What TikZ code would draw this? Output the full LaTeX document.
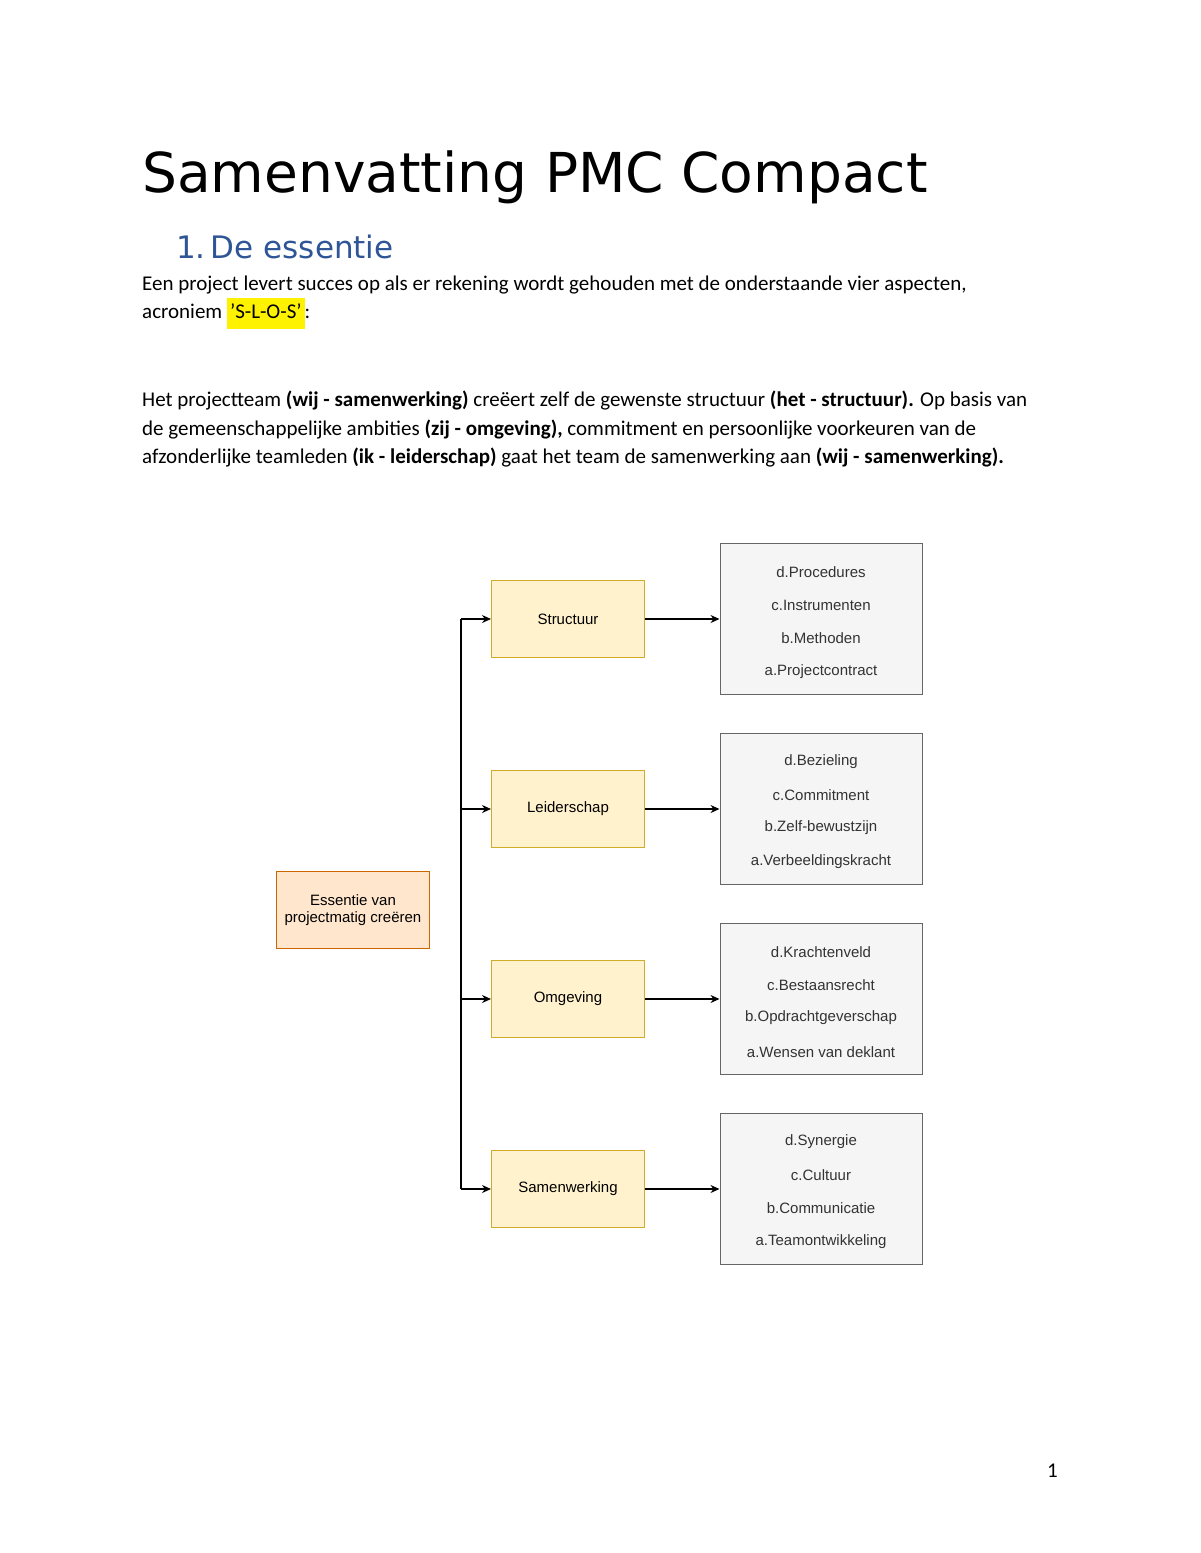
\documentclass[tikz,border=0pt]{standalone}
\usepackage{fontspec}
\setmainfont{Carlito}
\newfontfamily\titlefont{DejaVu Sans}
\newfontfamily\diafont{Liberation Sans}
\usetikzlibrary{arrows.meta}
\definecolor{hblue}{HTML}{2F5597}
\begin{document}
\begin{tikzpicture}[x=1pt,y=-1pt,
  body/.style={anchor=base west,inner sep=0pt,font=\fontsize{21}{25}\selectfont},
  aspect/.style={draw=#1!70!black,fill=#1,line width=1pt,minimum width=153pt,minimum height=77pt,inner sep=0pt,font=\diafont\fontsize{15}{17}\selectfont},
  listbox/.style={draw=black!60,fill=black!4,line width=1pt,minimum width=202pt,minimum height=151pt,inner sep=0pt},
  item/.style={font=\diafont\fontsize{15}{17}\selectfont,text=black!80,inner sep=0pt},
  conn/.style={line width=1.3pt,-{Stealth[length=9pt,width=8pt]}}]
\definecolor{yel}{HTML}{FFF2CC}
\definecolor{peach}{HTML}{FFE6CC}
\useasboundingbox[fill=white] (0,0) rectangle (1200,1553);
\node[anchor=base west,inner sep=0pt,font=\titlefont\fontsize{55}{60}\selectfont] (title) at (142,192) {Samenvatting PMC Compact};
\node[anchor=base west,inner sep=0pt,text=hblue,font=\titlefont\fontsize{31}{36}\selectfont] (h1) at (176,258) {1.\,De essentie};
\node[body] (l1) at (142,290) {Een project levert succes op als er rekening wordt gehouden met de onderstaande vier aspecten,};
\node[body] (l2) at (142,318) {acroniem \colorbox{yellow}{\strut’S-L-O-S’}:};
\node[body] (l3) at (142,406) {Het projectteam \textbf{(wij - samenwerking)} creëert zelf de gewenste structuur \textbf{(het - structuur).} Op basis van};
\node[body] (l4) at (142,435) {de gemeenschappelijke ambities \textbf{(zij - omgeving),} commitment en persoonlijke voorkeuren van de};
\node[body] (l5) at (142,463) {afzonderlijke teamleden \textbf{(ik - leiderschap)} gaat het team de samenwerking aan \textbf{(wij - samenwerking).}};
\node[body] (pg) at (1047,1477) {1};
% diagram
\node[aspect=peach,draw=orange!80!black,align=center] (ess) at (353,910) {Essentie van\\projectmatig creëren};
\coordinate (top) at (461,619);
\coordinate (bot) at (461,1189);
\draw[line width=1.3pt] (top) -- (bot);
\foreach \n/\t/\y in {s/Structuur/619,l/Leiderschap/809,o/Omgeving/999,w/Samenwerking/1189}{
  \node[aspect=yel,draw=yellow!60!orange!80!black] (\n) at (568,\y) {\t};
  \node[listbox] (\n L) at (821,\y) {};
  \coordinate (\n J) at (461,\y);
  \draw[conn] (\n J) -- (\n.west);
  \draw[conn] (\n.east) -- (\n L.west);
}
\foreach \n/\a/\b/\c/\d in {s/a.Projectcontract/b.Methoden/c.Instrumenten/d.Procedures,
  l/a.Verbeeldingskracht/b.Zelf-bewustzijn/c.Commitment/d.Bezieling,
  o/a.Wensen van deklant/b.Opdrachtgeverschap/c.Bestaansrecht/d.Krachtenveld,
  w/a.Teamontwikkeling/b.Communicatie/c.Cultuur/d.Synergie}{
  \node[item] at ([yshift=-53pt]\n L.center) {\a};
  \node[item] at ([yshift=-19pt]\n L.center) {\b};
  \node[item] at ([yshift=14pt]\n L.center) {\c};
  \node[item] at ([yshift=47pt]\n L.center) {\d};
}
\end{tikzpicture}
\end{document}
